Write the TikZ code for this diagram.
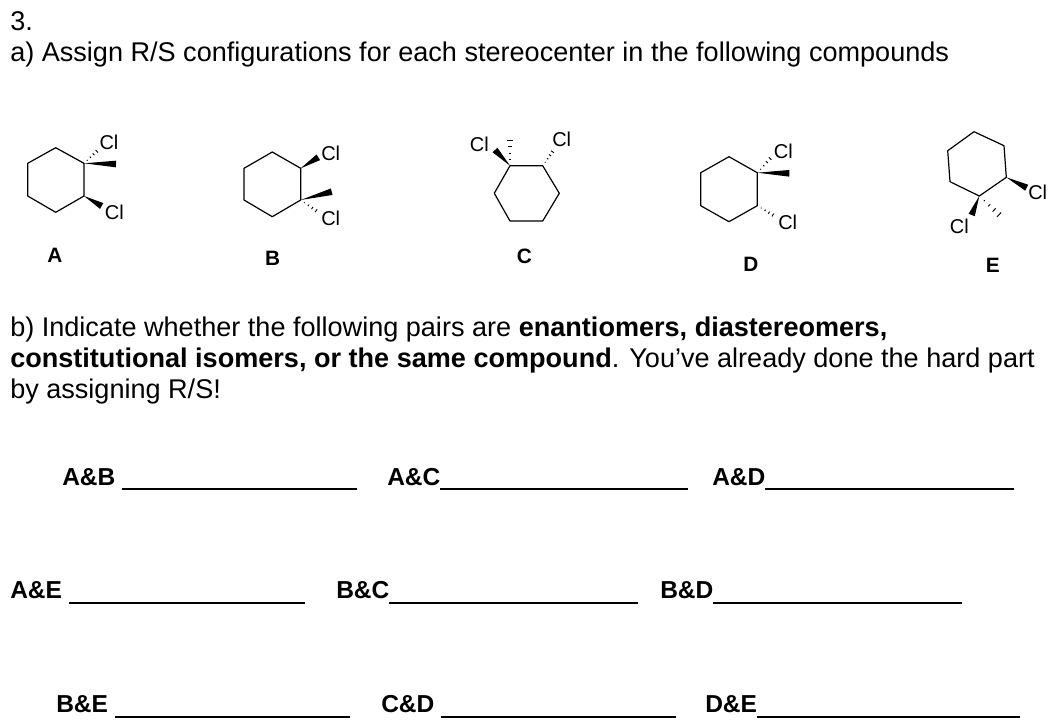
\documentclass[tikz,border=0pt]{standalone}
\usepackage{fontspec}
\setmainfont{Liberation Sans}
\usetikzlibrary{calc}

\tikzset{
    body/.style={anchor=base west,inner sep=0pt,font=\fontsize{20.3pt}{24pt}\selectfont},
    pair/.style={anchor=base west,inner sep=0pt,font=\fontsize{18.4pt}{22pt}\selectfont\bfseries},
    blank/.style={line width=1.5pt},
    ring/.style={line width=0.9pt,line join=round},
    cl/.style={inner sep=0pt,font=\fontsize{15pt}{18pt}\selectfont},
    tag/.style={inner sep=0pt,font=\fontsize{15.6pt}{18pt}\selectfont\bfseries},
}

% solid and hashed stereo bonds, narrow end at #1
\newcommand{\wedgebond}[2]{
    \fill ($(#2)!2.5pt!90:(#1)$) -- (#1) -- ($(#2)!2.5pt!-90:(#1)$) -- cycle;
}
\newcommand{\hashbond}[3][2.8]{
    \foreach \t [evaluate=\t as \w using \t*#1] in {0.2,0.4,0.6,0.8,1} {
        \draw[line width=0.7pt] ($(#2)!\t!(#3)!\w pt!90:(#3)$) -- ($(#2)!\t!(#3)!\w pt!-90:(#3)$);
    }
}

\begin{document}
\begin{tikzpicture}[x=0.75pt,y=-0.75pt]
    \useasboundingbox (0,0) rectangle (1054,726);

    \node[body] (num) at (10,30) {3.};
    \node[body] (parta) at (10,61) {a) Assign R/S configurations for each stereocenter in the following compounds};
    \node[body] (partb) at (10,336) {b) Indicate whether the following pairs are \textbf{enantiomers, diastereomers,}};
    \node[body] (partbb) at (10,367) {\textbf{constitutional isomers, or the same compound}. You've already done the hard part};
    \node[body] (partbc) at (10,398) {by assigning R/S!};

    % compound A
    \begin{scope}
        \coordinate (a1) at (27.7,163.3);
        \coordinate (a2) at (55.7,147.7);
        \coordinate (a3) at (84,163.3);
        \coordinate (a4) at (84,196);
        \coordinate (a5) at (55.7,212.3);
        \coordinate (a6) at (27.7,196);
        \coordinate (a7) at (116,164);
        \coordinate (a8) at (100,148.3);
        \coordinate (a9) at (101.7,206);
        \draw[ring] (a1) -- (a2) -- (a3) -- (a4) -- (a5) -- (a6) -- cycle;
        \wedgebond{a3}{a7}
        \hashbond[1.6]{a3}{a8}
        \wedgebond{a4}{a9}
        \node[cl] (aCl) at (109,142.7) {Cl};
        \node[cl] (aClb) at (114.3,212.7) {Cl};
        \node[tag] (A) at (55,255) {A};
    \end{scope}

    % compound B
    \begin{scope}
        \coordinate (b1) at (244,168.3);
        \coordinate (b2) at (272.3,152);
        \coordinate (b3) at (300.7,168.3);
        \coordinate (b4) at (300.7,200);
        \coordinate (b5) at (272.3,216.7);
        \coordinate (b6) at (244,200);
        \coordinate (b7) at (318.3,157.3);
        \coordinate (b8) at (331.7,191.7);
        \coordinate (b9) at (320,213.3);
        \draw[ring] (b1) -- (b2) -- (b3) -- (b4) -- (b5) -- (b6) -- cycle;
        \wedgebond{b3}{b7}
        \wedgebond{b4}{b8}
        \hashbond[1.6]{b4}{b9}
        \node[cl] (bCl) at (330.7,153.3) {Cl};
        \node[cl] (bClb) at (330.7,218.3) {Cl};
        \node[tag] (B) at (272.7,258.3) {B};
    \end{scope}

    % compound C
    \begin{scope}
        \coordinate (c1) at (510,165.7);
        \coordinate (c2) at (542.7,165.7);
        \coordinate (c3) at (559.3,193.3);
        \coordinate (c4) at (542.7,221);
        \coordinate (c5) at (510,221);
        \coordinate (c6) at (494.3,193.3);
        \coordinate (c7) at (495,150);
        \coordinate (c8) at (510,134);
        \coordinate (c9) at (555,148.3);
        \draw[ring] (c1) -- (c2) -- (c3) -- (c4) -- (c5) -- (c6) -- cycle;
        \wedgebond{c1}{c7}
        \hashbond{c1}{c8}
        \hashbond[1.6]{c2}{c9}
        \node[cl] (cCl) at (479.3,144) {Cl};
        \node[cl] (cClb) at (561.7,139.3) {Cl};
        \node[tag] (C) at (524.3,256) {C};
    \end{scope}

    % compound D
    \begin{scope}
        \coordinate (d1) at (700.7,172.7);
        \coordinate (d2) at (729,156.7);
        \coordinate (d3) at (757.3,172.7);
        \coordinate (d4) at (757.3,205.7);
        \coordinate (d5) at (729,221.7);
        \coordinate (d6) at (700.7,205.7);
        \coordinate (d7) at (789.3,173.3);
        \coordinate (d8) at (773.3,155);
        \coordinate (d9) at (776.7,217.3);
        \draw[ring] (d1) -- (d2) -- (d3) -- (d4) -- (d5) -- (d6) -- cycle;
        \wedgebond{d3}{d7}
        \hashbond[1.6]{d3}{d8}
        \hashbond[1.6]{d4}{d9}
        \node[cl] (dCl) at (783.3,151.7) {Cl};
        \node[cl] (dClb) at (787.7,222.7) {Cl};
        \node[tag] (D) at (751,264) {D};
    \end{scope}

    % compound E
    \begin{scope}
        \coordinate (e1) at (974,131.7);
        \coordinate (e2) at (1004,145.7);
        \coordinate (e3) at (1006.3,177.3);
        \coordinate (e4) at (979.3,196);
        \coordinate (e5) at (950,181.7);
        \coordinate (e6) at (947.7,150.7);
        \coordinate (e7) at (1026.7,187.7);
        \coordinate (e8) at (971.7,215);
        \coordinate (e9) at (1004,219.3);
        \draw[ring] (e1) -- (e2) -- (e3) -- (e4) -- (e5) -- (e6) -- cycle;
        \wedgebond{e3}{e7}
        \wedgebond{e4}{e8}
        \hashbond{e4}{e9}
        \node[cl] (eCl) at (1037.7,192.7) {Cl};
        \node[cl] (eClb) at (959.3,226) {Cl};
        \node[tag] (E) at (992.7,265) {E};
    \end{scope}

    % answer lines
    \begin{scope}
        \node[pair] (AB) at (62,485) {A\&B};
        \node[pair] (AC) at (387,485) {A\&C};
        \node[pair] (AD) at (712,485) {A\&D};
        \node[pair] (AE) at (10,598) {A\&E};
        \node[pair] (BC) at (336,598) {B\&C};
        \node[pair] (BD) at (660,598) {B\&D};
        \node[pair] (BE) at (56,712) {B\&E};
        \node[pair] (CD) at (381,712) {C\&D};
        \node[pair] (DE) at (705,712) {D\&E};
        \coordinate (ABs) at (122,488.5);
        \coordinate (ABe) at (357,488.5);
        \coordinate (ACs) at (440,488.5);
        \coordinate (ACe) at (688,488.5);
        \coordinate (ADs) at (765,488.5);
        \coordinate (ADe) at (1014,488.5);
        \coordinate (AEs) at (69,602.5);
        \coordinate (AEe) at (305,602.5);
        \coordinate (BCs) at (388.5,602.5);
        \coordinate (BCe) at (637.5,602.5);
        \coordinate (BDs) at (713,602.5);
        \coordinate (BDe) at (962,602.5);
        \coordinate (BEs) at (115,716.5);
        \coordinate (BEe) at (350,716.5);
        \coordinate (CDs) at (440.5,716.5);
        \coordinate (CDe) at (675.5,716.5);
        \coordinate (DEs) at (757,716.5);
        \coordinate (DEe) at (1020,716.5);
        \draw[blank] (ABs) -- (ABe);
        \draw[blank] (ACs) -- (ACe);
        \draw[blank] (ADs) -- (ADe);
        \draw[blank] (AEs) -- (AEe);
        \draw[blank] (BCs) -- (BCe);
        \draw[blank] (BDs) -- (BDe);
        \draw[blank] (BEs) -- (BEe);
        \draw[blank] (CDs) -- (CDe);
        \draw[blank] (DEs) -- (DEe);
    \end{scope}
\end{tikzpicture}
\end{document}
